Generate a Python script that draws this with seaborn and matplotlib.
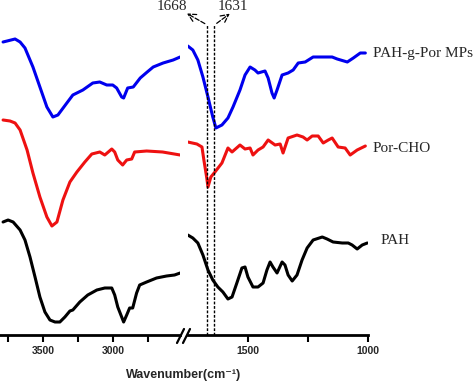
import numpy as np
import pandas as pd
import matplotlib
matplotlib.use("Agg")
import matplotlib.pyplot as plt
from matplotlib.lines import Line2D
import seaborn as sns

# ---- data (wavenumber in cm-1, transmittance in arbitrary offset units) ----
# left segment 3800-2500
blue_l_wn = [3788, 3759, 3702, 3666, 3631, 3574, 3524, 3474, 3431, 3395, 3331, 3288, 3216, 3145,
             3095, 3045, 3002, 2974, 2938, 2924, 2895, 2855, 2805, 2755, 2712, 2641, 2569, 2519]
blue_l_t = [293, 294, 296, 293, 287, 268, 248, 228, 218, 220, 232, 240, 245, 252,
            253, 250, 250, 247, 238, 237, 247, 248, 257, 263, 268, 272, 275, 278]

red_l_wn = [3788, 3738, 3702, 3666, 3616, 3574, 3524, 3474, 3438, 3402, 3359, 3309, 3259, 3202,
            3152, 3095, 3059, 3009, 2988, 2966, 2931, 2902, 2866, 2845, 2759, 2645, 2519]
red_l_t = [215, 214, 212, 205, 185, 162, 138, 118, 109, 113, 135, 153, 163, 173,
           181, 183, 180, 186, 183, 175, 170, 175, 176, 183, 184, 183, 180]

black_l_wn = [3788, 3752, 3716, 3666, 3631, 3595, 3559, 3524, 3488, 3452, 3416, 3381, 3345, 3309,
              3288, 3238, 3181, 3116, 3059, 3009, 2988, 2966, 2938, 2924, 2902, 2881, 2859, 2831,
              2809, 2759, 2688, 2616, 2559, 2519]
black_l_t = [113, 115, 113, 105, 95, 78, 58, 38, 23, 15, 13, 13, 18, 24,
             25, 33, 40, 45, 47, 47, 40, 28, 18, 13, 20, 27, 27, 42,
             50, 53, 57, 59, 60, 62]

# right segment 1750-1000
blue_r_wn = [1749, 1728, 1707, 1686, 1665, 1645, 1632, 1607, 1582, 1561, 1532, 1511, 1490, 1470,
             1457, 1428, 1415, 1399, 1390, 1378, 1357, 1332, 1311, 1290, 1261, 1228, 1186, 1149,
             1128, 1086, 1061, 1032, 1011]
blue_r_t = [289, 285, 275, 258, 238, 218, 207, 210, 217, 228, 245, 260, 268, 265,
            262, 264, 257, 242, 237, 245, 260, 262, 265, 272, 273, 278, 278, 278,
            276, 273, 277, 282, 282]

red_r_wn = [1749, 1711, 1690, 1682, 1670, 1665, 1653, 1636, 1607, 1582, 1565, 1532, 1511, 1490,
            1478, 1457, 1436, 1415, 1386, 1365, 1353, 1332, 1295, 1270, 1253, 1232, 1207, 1186,
            1165, 1149, 1124, 1095, 1074, 1045, 1011]
red_r_t = [193, 191, 188, 175, 157, 148, 158, 163, 172, 187, 183, 190, 186, 187,
           180, 185, 188, 195, 190, 191, 182, 197, 200, 198, 195, 199, 199, 192,
           195, 197, 188, 187, 180, 185, 189]

black_r_wn = [1749, 1728, 1707, 1686, 1665, 1645, 1624, 1603, 1582, 1565, 1545, 1524, 1511, 1499,
              1478, 1457, 1436, 1420, 1407, 1395, 1378, 1357, 1345, 1332, 1315, 1295, 1274, 1253,
              1228, 1190, 1170, 1145, 1107, 1082, 1066, 1045, 1024, 1003]
black_r_t = [100, 97, 92, 80, 65, 55, 48, 43, 36, 38, 52, 67, 68, 58,
             48, 48, 52, 65, 73, 68, 62, 73, 70, 60, 54, 60, 75, 87,
             95, 98, 96, 93, 92, 92, 90, 86, 90, 92]

series_names = ["PAH-g-Por MPs", "Por-CHO", "PAH"]
series_colors = ["#0000ee", "#ee1111", "black"]
marked_peaks = [1668, 1638]
peak_labels = ["1668", "1631"]

left_ticks = [3500, 3000]
left_minor = [3750, 3250, 2750]
right_ticks = [1500, 1000]
right_minor = [1250]

sns.set_theme(style="white")
plt.rcParams["font.family"] = ["Liberation Sans", "DejaVu Sans"]

W, H = 474, 386
fig = plt.figure(figsize=(W / 100, H / 100), dpi=100)
bottom = (H - 335) / H
ax_l = fig.add_axes([0 / W, bottom, 180 / W, 1 - bottom])
ax_r = fig.add_axes([188 / W, bottom, 180 / W, 1 - bottom])

left = [(blue_l_wn, blue_l_t), (red_l_wn, red_l_t), (black_l_wn, black_l_t)]
right = [(blue_r_wn, blue_r_t), (red_r_wn, red_r_t), (black_r_wn, black_r_t)]
for (xs, ys), c in zip(left, series_colors):
    sns.lineplot(x=xs, y=ys, ax=ax_l, color=c, lw=2.2, solid_joinstyle="round")
for (xs, ys), c in zip(right, series_colors):
    sns.lineplot(x=xs, y=ys, ax=ax_r, color=c, lw=2.2, solid_joinstyle="round")

ax_l.set_xlim(3810, 2520)
ax_r.set_xlim(1748, 1000)
for ax in (ax_l, ax_r):
    ax.set_ylim(0, 335)
    ax.set_yticks([])
    ax.set_facecolor("none")
    for s in ("left", "right", "top"):
        ax.spines[s].set_visible(False)
    ax.spines["bottom"].set_linewidth(2)
    ax.spines["bottom"].set_color("black")
    ax.tick_params(axis="x", which="both", direction="out", length=5, width=1.5,
                   color="black", bottom=True, pad=3)
    ax.set_xlabel("")
    ax.set_ylabel("")

ax_l.set_xticks(left_ticks)
ax_l.set_xticks(left_minor, minor=True)
ax_r.set_xticks(right_ticks)
ax_r.set_xticks(right_minor, minor=True)
for ax in (ax_l, ax_r):
    for lab in ax.get_xticklabels():
        lab.set_fontsize(7.5)
        lab.set_fontweight("bold")

# dashed marker lines at the amide peaks
for p in marked_peaks:
    ax_r.vlines(p, 0, 310, colors="black", linestyles=(0, (2, 1.2)), lw=1, clip_on=False)

arrow_kw = dict(arrowstyle="->", ls="--", lw=0.9, color="black", mutation_scale=14)
ax_r.annotate("", xy=(1763, 323), xytext=(marked_peaks[0], 310), annotation_clip=False,
              arrowprops=arrow_kw)
ax_r.annotate("", xy=(1565, 323), xytext=(marked_peaks[1], 310), annotation_clip=False,
              arrowprops=arrow_kw)
ax_r.text(1815, 329, peak_labels[0], ha="center", va="center", fontsize=11,
          family="Liberation Serif", clip_on=False)
ax_r.text(1561, 329, peak_labels[1], ha="center", va="center", fontsize=11,
          family="Liberation Serif", clip_on=False)

# series labels
label_pos = [(373, 54), (373, 148), (381, 241)]
for name, (px, py) in zip(series_names, label_pos):
    fig.text(px / W, 1 - py / H, name, ha="left", va="center", fontsize=11,
             family="Liberation Serif")

fig.text(184 / W, 1 - 375 / H, "Wavenumber(cm\u207b\u00b9)", ha="center", va="center",
         fontsize=9, fontweight="bold", family=["Liberation Sans", "DejaVu Sans"])

# axis break marks
for x0 in (177, 183):
    fig.add_artist(Line2D([x0 / W, (x0 + 7) / W], [1 - 343 / H, 1 - 329 / H],
                          color="black", lw=1.6, transform=fig.transFigure))

fig.savefig("out.png", dpi=100)
